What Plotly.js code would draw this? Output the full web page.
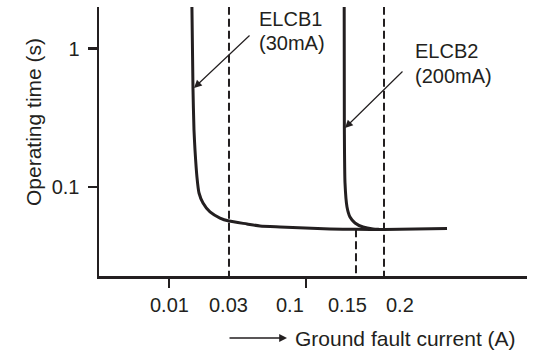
<!DOCTYPE html>
<html>
<head>
<meta charset="utf-8">
<script src="https://cdn.plot.ly/plotly-3.0.1.min.js"></script>
<style>html,body{margin:0;padding:0;background:#fff;}#chart{width:533px;height:353px;}</style>
</head>
<body>
<div id="chart"></div>
<script>
// ---- data (A, s) ----
const elcb1Current = [0.0147, 0.01496, 0.01522, 0.01548, 0.0160, 0.01656, 0.01771, 0.01992, 0.02356, 0.02741, 0.0371, 0.04615, 0.0646, 0.1497, 0.2317, 0.371, 1.07];
const elcb1Time    = [2.0, 0.519, 0.258, 0.185, 0.118, 0.0905, 0.0766, 0.066, 0.0597, 0.0568, 0.0541, 0.0523, 0.0514, 0.0497, 0.0495, 0.0493, 0.0502];
const elcb2Current = [0.190, 0.1905, 0.1926, 0.1992, 0.2095, 0.2279, 0.2606, 0.3083, 0.34];
const elcb2Time    = [2.0, 0.267, 0.107, 0.0717, 0.0607, 0.055, 0.0514, 0.0497, 0.0495];
const refCurrent   = [0.02741, 0.2317, 0.371];   // dashed reference lines
const refTop       = [2.0, 0.0495, 2.0];
const refBottom    = [0.02, 0.02, 0.02];
const xTickValues  = [0.01, 0.1];
const yTickValues  = [0.1, 1];
const yTickLabels  = ['0.1', '1'];
const xLabelText   = ['0.01', '0.03', '0.1', '0.15', '0.2'];
const seriesNames  = ['ELCB1', 'ELCB2'];
const seriesRatings = ['(30mA)', '(200mA)'];

const ink = '#231f20';
const FONT = 'Liberation Sans, Arial, Helvetica, sans-serif';

const traces = [];
refCurrent.forEach((xv, i) => {
  traces.push({x: [xv, xv], y: [refTop[i], refBottom[i]], mode: 'lines', type: 'scatter',
    line: {color: ink, width: 2, dash: '8px,4px'}, hoverinfo: 'skip', showlegend: false});
});
traces.push({x: elcb1Current, y: elcb1Time, mode: 'lines', type: 'scatter', name: seriesNames[0],
  line: {color: ink, width: 3, shape: 'spline', smoothing: 0.6}, showlegend: false});
traces.push({x: elcb2Current, y: elcb2Time, mode: 'lines', type: 'scatter', name: seriesNames[1],
  line: {color: ink, width: 3, shape: 'spline', smoothing: 0.6}, showlegend: false});

// layout geometry
const L = 99, T = 7, W = 428, H = 269;
const px = p => (p - L) / W;        // pixel -> paper x
const py = p => (T + H - p) / H;    // pixel -> paper y
const lg = Math.log10;

const ann = [];
// x labels (positions: data value of anchor, anchor side)
const xLabelAnchor = [[0.01, 'center'], [refCurrent[0], 'center'], [0.1, 'right'], [0.2006, 'center'], [refCurrent[2], 'left']];
xLabelText.forEach((t, i) => {
  ann.push({text: t, xref: 'x', yref: 'paper', x: lg(xLabelAnchor[i][0]), y: py(305),
    xanchor: xLabelAnchor[i][1], yanchor: 'middle', showarrow: false,
    font: {family: FONT, size: 20, color: ink}});
});
// series labels
const labelPos = [[257, 19.5, 42.5], [413, 51, 75.5]];
seriesNames.forEach((n, i) => {
  ann.push({text: n, xref: 'paper', yref: 'paper', x: px(labelPos[i][0]), y: py(labelPos[i][1]),
    xanchor: 'left', yanchor: 'middle', showarrow: false, font: {family: FONT, size: 20, color: ink}});
  ann.push({text: seriesRatings[i], xref: 'paper', yref: 'paper', x: px(labelPos[i][0]), y: py(labelPos[i][2]),
    xanchor: 'left', yanchor: 'middle', showarrow: false, font: {family: FONT, size: 20, color: ink}});
});
// pointer arrows (tip on curve, tail near label)
const arrows = [[0.01522, 0.519, 0.0397, 1.272], [0.1926, 0.267, 0.519, 0.6996]];
arrows.forEach(a => {
  ann.push({text: '', xref: 'x', yref: 'y', axref: 'x', ayref: 'y',
    x: lg(a[0]), y: lg(a[1]), ax: lg(a[2]), ay: lg(a[3]),
    showarrow: true, arrowhead: 2, arrowsize: 1.3, arrowwidth: 1.2, arrowcolor: ink, standoff: 0});
});
// x-axis title with arrow
ann.push({text: '', xref: 'paper', yref: 'paper', x: px(287), y: py(338), ax: -59, ay: 0,
  showarrow: true, arrowhead: 2, arrowsize: 1.2, arrowwidth: 1.3, arrowcolor: ink, standoff: 0});
ann.push({text: 'Ground fault current (A)', xref: 'paper', yref: 'paper', x: px(293), y: py(338),
  xanchor: 'left', yanchor: 'middle', showarrow: false, font: {family: FONT, size: 21, color: ink}});
// y-axis title
ann.push({text: 'Operating time (s)', xref: 'paper', yref: 'paper', x: px(33), y: py(122),
  xanchor: 'center', yanchor: 'middle', textangle: -90, showarrow: false,
  font: {family: FONT, size: 21, color: ink}});

const layout = {
  width: 533, height: 353,
  margin: {l: L, r: 533 - L - W, t: T, b: 353 - T - H, pad: 0},
  paper_bgcolor: '#fff', plot_bgcolor: '#fff',
  showlegend: false,
  xaxis: {type: 'log', range: [-2 - 70 / 137, -2 + 358 / 137], showgrid: false, zeroline: false,
    showline: true, linecolor: ink, linewidth: 2.5, ticks: 'outside', ticklen: 9, tickwidth: 2.5, tickcolor: ink,
    tickvals: xTickValues, showticklabels: false, fixedrange: true},
  yaxis: {type: 'log', range: [-1 - 89 / 138.5, 41.5 / 138.5], showgrid: false, zeroline: false,
    showline: true, linecolor: ink, linewidth: 2.5, ticks: 'outside', ticklen: 9, tickwidth: 2.5, tickcolor: ink,
    tickvals: yTickValues, ticktext: yTickLabels, ticklabelstandoff: 4,
    tickfont: {family: FONT, size: 20, color: ink}, fixedrange: true},
  annotations: ann
};

Plotly.newPlot('chart', traces, layout, {displayModeBar: false, staticPlot: true});
</script>
</body>
</html>
